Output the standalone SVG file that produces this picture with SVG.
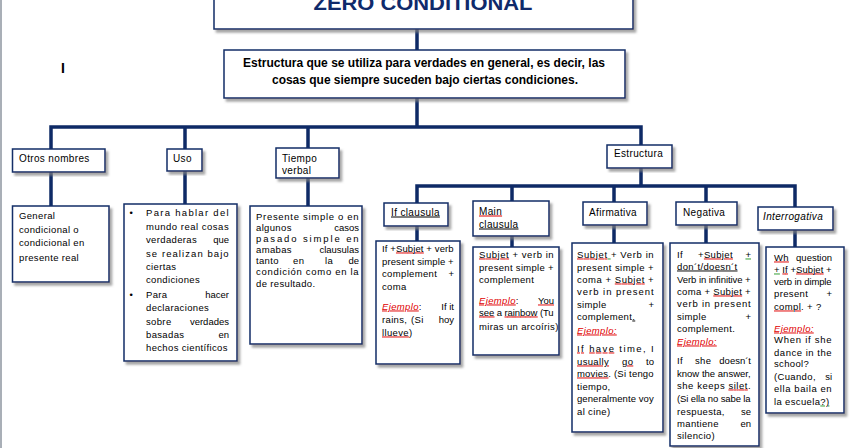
<svg xmlns="http://www.w3.org/2000/svg" width="852" height="448" viewBox="0 0 852 448">
<defs>
<filter id="sh" x="-10%" y="-10%" width="130%" height="130%">
<feDropShadow dx="2.5" dy="3" stdDeviation="1.2" flood-color="#808080" flood-opacity="0.7"/>
</filter>
<style>
.box{fill:#fff;stroke:#132D67;stroke-width:1.5;filter:url(#sh)}
.ln{stroke:#0E2A66;stroke-width:3.5;fill:none;stroke-linecap:square}
.h{font-family:"Liberation Sans",Arial,sans-serif;font-size:10px;letter-spacing:0.35px;fill:#000}
.t{font-family:"Liberation Sans",Arial,sans-serif;font-size:9.5px;letter-spacing:0.35px;fill:#000}
.r{text-anchor:end;letter-spacing:0}
.ej{fill:#E00000;font-style:italic;text-decoration:underline}
.sp{fill:#E00000;text-decoration:underline}
.gr{fill:#2a9a2a;text-decoration:underline}
.k{fill:#000}
.u{text-decoration:underline}
.b{font-family:"Liberation Sans",Arial,sans-serif;font-weight:bold;fill:#000}
</style>
</defs>
<rect x="0" y="0" width="852" height="448" fill="#fff"/>
<line x1="1" y1="0" x2="1" y2="448" stroke="#A9AFB7" stroke-width="2"/>
<text class="b" x="61" y="72.5" font-size="14">I</text>

<g id="connectors">
<path class="ln" d="M417,29 V50 M417,98 V127 M51,127 H641 M51,127 V149 M185,127 V149 M308,127 V148 M641,127 V145"/>
<path class="ln" d="M51,172 V206 M185,171 V204 M308,178 V206"/>
<path class="ln" d="M641,168 V186 M417,186 H795 M417,186 V203 M512,186 V201 M614,186 V202 M706,186 V202 M795,186 V207"/>
<path class="ln" d="M417,226 V241 M512,236 V247 M614,225 V243 M706,225 V243 M795,230 V247"/>
</g>

<g id="title">
<rect class="box" x="214" y="-6" width="419" height="35"/>
<text x="423" y="10" text-anchor="middle" font-family="'Liberation Sans',Arial,sans-serif" font-weight="bold" font-size="20" fill="#0F2A6B" textLength="219" lengthAdjust="spacingAndGlyphs">ZERO CONDITIONAL</text>
</g>

<g id="definition">
<rect class="box" x="224" y="50" width="401" height="48"/>
<text class="b" x="243" y="67" font-size="12" textLength="362" lengthAdjust="spacingAndGlyphs">Estructura que se utiliza para verdades en general, es decir, las</text>
<text class="b" x="272" y="84" font-size="12" textLength="306" lengthAdjust="spacingAndGlyphs">cosas que siempre suceden bajo ciertas condiciones.</text>
</g>

<g id="otros-nombres">
<rect class="box" x="12.5" y="149" width="92.5" height="23"/>
<text class="h" x="19" y="161.5">Otros nombres</text>
</g>
<g id="uso">
<rect class="box" x="167" y="149" width="35" height="22"/>
<text class="h" x="173" y="161.5">Uso</text>
</g>
<g id="tiempo-verbal">
<rect class="box" x="276" y="148" width="63" height="30"/>
<text class="h" x="282" y="161.5">Tiempo</text>
<text class="h" x="282" y="174">verbal</text>
</g>
<g id="estructura">
<rect class="box" x="607" y="145" width="65" height="23"/>
<text class="h" x="614" y="156.5">Estructura</text>
</g>

<g id="otros-content">
<rect class="box" x="12.5" y="206" width="96.5" height="76"/>
<text class="t" x="19" y="218.5" letter-spacing="0.6">General</text>
<text class="t" x="19" y="232.5" letter-spacing="0.6">condicional o</text>
<text class="t" x="19" y="245.5" letter-spacing="0.6">condicional en</text>
<text class="t" x="19" y="260.5" letter-spacing="0.6">presente real</text>
</g>

<g id="uso-content">
<rect class="box" x="124" y="204" width="113" height="157"/>
<text class="t" x="129.5" y="215.5">•</text>
<text class="t" x="146" y="215.5" textLength="83" lengthAdjust="spacing">Para hablar del</text>
<text class="t" x="146" y="229.5" textLength="83" lengthAdjust="spacing">mundo real cosas</text>
<text class="t" x="146" y="242.5">verdaderas</text><text class="t r" x="229" y="242.5">que</text>
<text class="t" x="146" y="256.5" textLength="83" lengthAdjust="spacing">se realizan bajo</text>
<text class="t" x="146" y="269.5">ciertas</text>
<text class="t" x="146" y="282.5">condiciones</text>
<text class="t" x="129.5" y="297.5">•</text>
<text class="t" x="146" y="297.5">Para</text><text class="t r" x="229" y="297.5">hacer</text>
<text class="t" x="146" y="310.5">declaraciones</text>
<text class="t" x="146" y="324.5">sobre</text><text class="t r" x="229" y="324.5">verdades</text>
<text class="t" x="146" y="337.5">basadas</text><text class="t r" x="229" y="337.5">en</text>
<text class="t" x="146" y="350.5">hechos científicos</text>
</g>

<g id="tiempo-content">
<rect class="box" x="250" y="206" width="112" height="138"/>
<text class="t" x="256" y="219.5" textLength="103" lengthAdjust="spacing">Presente simple o en</text>
<text class="t" x="256" y="231">algunos</text><text class="t r" x="359" y="231">casos</text>
<text class="t" x="256" y="242" textLength="103" lengthAdjust="spacing">pasado simple en</text>
<text class="t" x="256" y="253">amabas</text><text class="t r" x="359" y="253">clausulas</text>
<text class="t" x="256" y="264">tanto</text><text class="t" x="293" y="264">en</text><text class="t" x="325" y="264">la</text><text class="t r" x="359" y="264">de</text>
<text class="t" x="256" y="275" textLength="103" lengthAdjust="spacing">condición como en la</text>
<text class="t" x="256" y="287">de resultado.</text>
</g>

<g id="if-clausula">
<rect class="box" x="384" y="203" width="64" height="23"/>
<text class="h u" x="391" y="215.5">If clausula</text>
</g>
<g id="main-clausula">
<rect class="box" x="473" y="201" width="76" height="35"/>
<text class="h" x="479" y="214.5"><tspan class="sp"><tspan class="k">Main</tspan></tspan></text>
<text class="h u" x="479" y="227.5">clausula</text>
</g>
<g id="afirmativa">
<rect class="box" x="583" y="202" width="64" height="23"/>
<text class="h" x="589" y="215.5">Afirmativa</text>
</g>
<g id="negativa">
<rect class="box" x="676" y="202" width="61" height="23"/>
<text class="h" x="683" y="215.5">Negativa</text>
</g>
<g id="interrogativa">
<rect class="box" x="758" y="207" width="75" height="23"/>
<text class="h" x="763" y="219.5" font-style="italic">Interrogativa</text>
</g>

<g id="if-content">
<rect class="box" x="376" y="241" width="84" height="123"/>
<text class="t" x="382" y="251.5" textLength="72" lengthAdjust="spacing">If +<tspan class="sp"><tspan class="k">Subjet</tspan></tspan> + verb</text>
<text class="t" x="382" y="264.5" textLength="72" lengthAdjust="spacing">present simple +</text>
<text class="t" x="382" y="276.5">complement</text><text class="t r" x="454" y="276.5">+</text>
<text class="t" x="382" y="289.5">coma</text>
<text class="t" x="382" y="309.5"><tspan class="ej">Ejemplo</tspan>:</text><text class="t r" x="454" y="309.5">If it</text>
<text class="t" x="382" y="322.5">rains,</text><text class="t" x="411" y="322.5">(Si</text><text class="t r" x="454" y="322.5">hoy</text>
<text class="t" x="382" y="335.5"><tspan class="sp"><tspan class="k">llueve</tspan></tspan>)</text>
</g>

<g id="main-content">
<rect class="box" x="473" y="247" width="86" height="108"/>
<text class="t" x="479" y="257.5" textLength="75" lengthAdjust="spacing"><tspan class="sp"><tspan class="k">Subjet</tspan></tspan> + verb in</text>
<text class="t" x="479" y="270.5" textLength="75" lengthAdjust="spacing">present simple +</text>
<text class="t" x="479" y="282.5">complement</text>
<text class="t" x="479" y="303.5"><tspan class="ej">Ejemplo</tspan>:</text><text class="t r" x="554" y="303.5"><tspan class="sp"><tspan class="k">You</tspan></tspan></text>
<text class="t" x="479" y="315.5" textLength="75" lengthAdjust="spacing"><tspan class="sp"><tspan class="k">see</tspan></tspan> a <tspan class="sp"><tspan class="k">rainbow</tspan></tspan> (Tu</text>
<text class="t" x="479" y="329.5">miras un arcoíris)</text>
</g>

<g id="afirmativa-content">
<rect class="box" x="572" y="243" width="91" height="189"/>
<text class="t" x="577" y="257.5" textLength="77" lengthAdjust="spacing"><tspan class="sp"><tspan class="k">Subjet</tspan></tspan><tspan class="gr">  </tspan>+ Verb in</text>
<text class="t" x="577" y="270.5" textLength="77" lengthAdjust="spacing">present simple +</text>
<text class="t" x="577" y="282.5" textLength="77" lengthAdjust="spacing">coma + <tspan class="sp"><tspan class="k">Subjet</tspan></tspan> +</text>
<text class="t" x="577" y="294.5" textLength="77" lengthAdjust="spacing">verb in present</text>
<text class="t" x="577" y="307.5">simple</text><text class="t r" x="654" y="307.5">+</text>
<text class="t" x="577" y="319.5">complement<tspan class="u">.</tspan></text>
<text class="t" x="577" y="333.5"><tspan class="ej">Ejemplo:</tspan></text>
<text class="t" x="577" y="351.5" textLength="77" lengthAdjust="spacing"><tspan class="sp"><tspan class="k">If</tspan></tspan> <tspan class="sp"><tspan class="k">have</tspan></tspan> time, I</text>
<text class="t" x="577" y="364.5"><tspan class="sp"><tspan class="k">usually</tspan></tspan></text><text class="t" x="622" y="364.5"><tspan class="sp"><tspan class="k">go</tspan></tspan></text><text class="t r" x="654" y="364.5">to</text>
<text class="t" x="577" y="376.5" textLength="77" lengthAdjust="spacing"><tspan class="sp"><tspan class="k">movies</tspan></tspan>. (Si tengo</text>
<text class="t" x="577" y="389.5">tiempo,</text>
<text class="t" x="577" y="401.5" textLength="77" lengthAdjust="spacing">generalmente voy</text>
<text class="t" x="577" y="414.5">al cine)</text>
</g>

<g id="negativa-content">
<rect class="box" x="670" y="243" width="89" height="203"/>
<text class="t" x="677" y="257.5">If</text><text class="t" x="698" y="257.5">+<tspan class="sp"><tspan class="k">Subjet</tspan></tspan></text><text class="t r" x="751" y="257.5"><tspan class="gr"><tspan class="k">+</tspan></tspan></text>
<text class="t" x="677" y="269.5"><tspan class="u">don´t/doesn´t</tspan></text>
<text class="t" x="677" y="282.5" textLength="74" lengthAdjust="spacing">Verb in infinitive +</text>
<text class="t" x="677" y="294.5" textLength="74" lengthAdjust="spacing">coma + <tspan class="sp"><tspan class="k">Subjet</tspan></tspan> +</text>
<text class="t" x="677" y="306.5" textLength="74" lengthAdjust="spacing">verb in present</text>
<text class="t" x="677" y="319.5">simple</text><text class="t r" x="751" y="319.5">+</text>
<text class="t" x="677" y="331.5">complement.</text>
<text class="t" x="677" y="344.5"><tspan class="ej">Ejemplo:</tspan></text>
<text class="t" x="677" y="363.5">If</text><text class="t" x="695" y="363.5">she</text><text class="t r" x="751" y="363.5">doesn´t</text>
<text class="t" x="677" y="376.5" textLength="74" lengthAdjust="spacing">know the answer,</text>
<text class="t" x="677" y="388.5" textLength="74" lengthAdjust="spacing">she keeps <tspan class="sp"><tspan class="k">silet</tspan></tspan>.</text>
<text class="t" x="677" y="401.5" textLength="74" lengthAdjust="spacing">(Si ella no sabe la</text>
<text class="t" x="677" y="414.5">respuesta,</text><text class="t r" x="751" y="414.5">se</text>
<text class="t" x="677" y="426.5">mantiene</text><text class="t r" x="751" y="426.5">en</text>
<text class="t" x="677" y="438.5">silencio)</text>
</g>

<g id="interrogativa-content">
<rect class="box" x="766" y="247" width="78" height="166"/>
<text class="t" x="774" y="260.5"><tspan class="sp"><tspan class="k">Wh</tspan></tspan></text><text class="t r" x="832" y="260.5">question</text>
<text class="t" x="774" y="272.5" textLength="58" lengthAdjust="spacing"><tspan class="gr"><tspan class="k">+</tspan></tspan> <tspan class="sp"><tspan class="k">If</tspan></tspan> +<tspan class="sp"><tspan class="k">Subjet</tspan></tspan> +</text>
<text class="t" x="774" y="284.5" textLength="58" lengthAdjust="spacing">verb in dimple</text>
<text class="t" x="774" y="296.5">present</text><text class="t r" x="832" y="296.5">+</text>
<text class="t" x="774" y="309.5"><tspan class="sp"><tspan class="k">compl</tspan></tspan>. + ?</text>
<text class="t" x="774" y="331.5"><tspan class="ej">Ejemplo:</tspan></text>
<text class="t" x="774" y="342.5" textLength="58" lengthAdjust="spacing">When if she</text>
<text class="t" x="774" y="355.5" textLength="58" lengthAdjust="spacing">dance in the</text>
<text class="t" x="774" y="366.5">school?</text>
<text class="t" x="774" y="379.5">(Cuando,</text><text class="t r" x="832" y="379.5">si</text>
<text class="t" x="774" y="391.5" textLength="58" lengthAdjust="spacing">ella baila en</text>
<text class="t" x="774" y="404.5">la escuela<tspan class="gr"><tspan class="k">?)</tspan></tspan></text>
</g>
</svg>
